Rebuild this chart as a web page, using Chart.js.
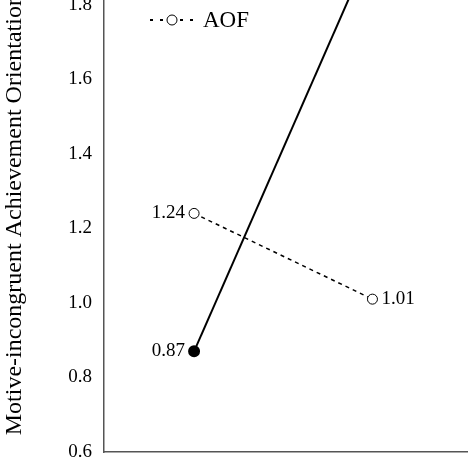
<!DOCTYPE html><html><head><script src="https://cdn.jsdelivr.net/npm/chart.js@4"></script>
<style>html,body{margin:0;padding:0;background:#fff;overflow:hidden}#w{width:474px;height:520px;margin-top:-40px}</style></head><body><div id="w"><canvas id="c"></canvas></div>
<script>
const positions=[0,1];
const solidValues=[0.87,1.96];
const aofValues=[1.24,1.01];
const yTicks=[0.6,0.8,1.0,1.2,1.4,1.6,1.8];
const font="'Liberation Serif', serif";
const OFF=40;
const labelsPlugin={id:'lbl',afterDatasetsDraw(ch){
 const ctx=ch.ctx,x=ch.scales.x,y=ch.scales.y;
 ctx.save();ctx.fillStyle='#000';ctx.font="19px "+font;ctx.textBaseline='middle';
 ctx.textAlign='right';ctx.fillText(solidValues[0].toFixed(2),x.getPixelForValue(0)-9,y.getPixelForValue(solidValues[0]));
 ctx.fillText(aofValues[0].toFixed(2),x.getPixelForValue(0)-9,y.getPixelForValue(aofValues[0]));
 ctx.textAlign='left';ctx.fillText(aofValues[1].toFixed(2),x.getPixelForValue(1)+9,y.getPixelForValue(aofValues[1]));
 const ly=20+OFF;
 ctx.strokeStyle='#000';ctx.lineWidth=2;ctx.setLineDash([3,7]);
 ctx.beginPath();ctx.moveTo(150,ly);ctx.lineTo(196,ly);ctx.stroke();ctx.setLineDash([]);
 ctx.fillStyle='#fff';ctx.beginPath();ctx.arc(172,ly,5,0,Math.PI*2);ctx.fill();ctx.lineWidth=1;ctx.stroke();
 ctx.fillStyle='#000';ctx.font="23px "+font;ctx.fillText('AOF',203,ly+1);
 ctx.restore();}};
new Chart(document.getElementById('c'),{type:'scatter',
data:{datasets:[
{data:positions.map((p,i)=>({x:p,y:solidValues[i]})),showLine:true,borderColor:'#000',borderWidth:2,pointRadius:[5,0],pointBackgroundColor:'#000',pointBorderColor:'#000'},
{data:positions.map((p,i)=>({x:p,y:aofValues[i]})),showLine:true,borderColor:'#000',borderWidth:1.5,borderDash:[4,4],pointRadius:5,pointBackgroundColor:'#fff',pointBorderColor:'#000',pointBorderWidth:1}]},
options:{animation:false,responsive:true,maintainAspectRatio:false,layout:{padding:{top:0,right:0,bottom:20,left:0}},
plugins:{legend:{display:false},tooltip:{enabled:false}},
scales:{x:{type:'linear',min:-0.505,max:1.53,ticks:{display:false},grid:{display:false},border:{color:'#555',width:1.5}},
y:{min:0.6,max:1.873,afterFit(s){s.width=104;},afterBuildTicks(s){s.ticks=yTicks.map(v=>({value:v}));},
ticks:{color:'#000',font:{family:font,size:19},callback:v=>v.toFixed(1),padding:6},
grid:{display:false,drawTicks:true,tickLength:6,tickColor:'#555'},border:{color:'#555',width:1.5},
title:{display:true,text:'Motive-incongruent Achievement Orientation',color:'#000',font:{family:font,size:24},padding:{top:0,bottom:4}}}}},
plugins:[labelsPlugin]});
</script></body></html>
